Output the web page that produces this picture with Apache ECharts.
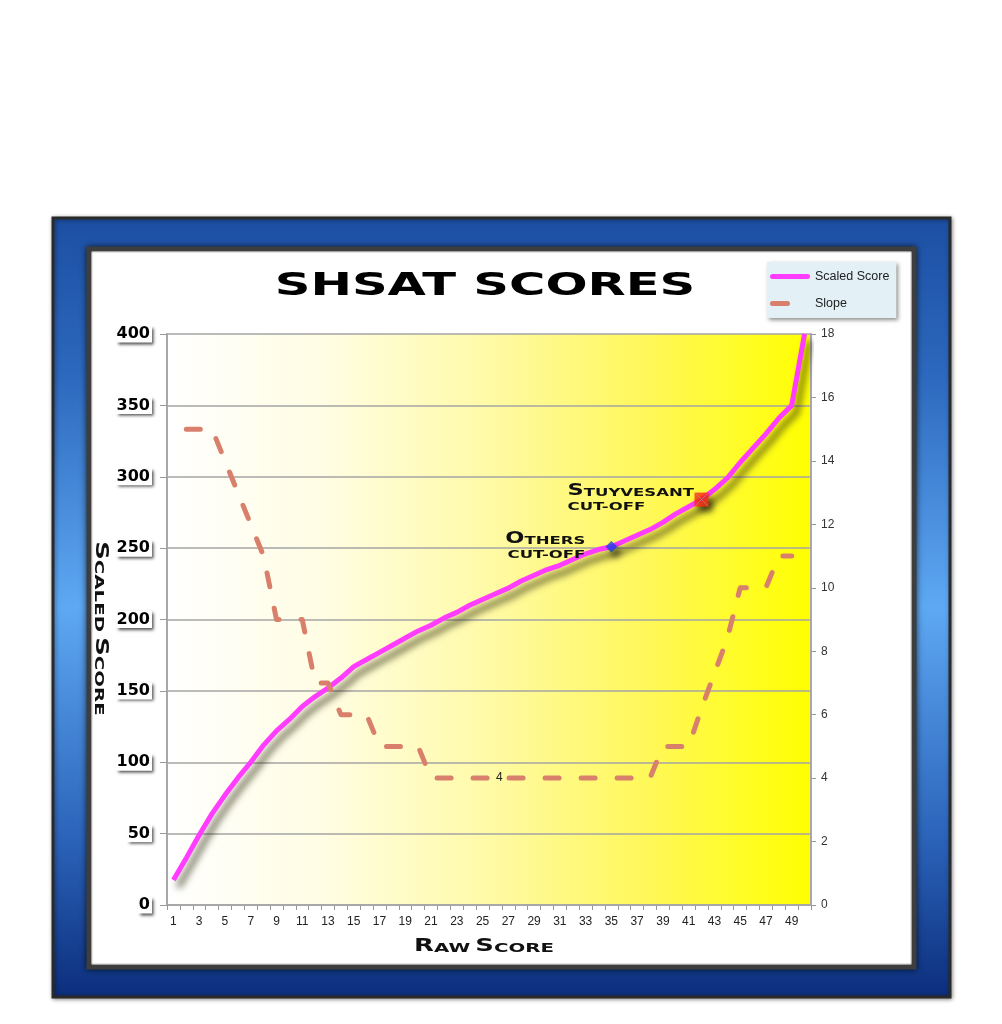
<!DOCTYPE html>
<html>
<head>
<meta charset="utf-8">
<script src="https://cdn.jsdelivr.net/npm/echarts@6/dist/echarts.min.js"></script>
<style>html,body{margin:0;padding:0;background:#fff}#c{width:1002px;height:1024px}</style>
</head>
<body>
<div id="c"></div>
<script>
// ---- data ----
const rawScores = ['1','2','3','4','5','6','7','8','9','10','11','12','13','14','15','16','17','18','19','20',
  '21','22','23','24','25','26','27','28','29','30','31','32','33','34','35','36','37','38','39','40',
  '41','42','43','44','45','46','47','48','49','50'];
const scaledScores = [17.5,33,49,64,77,89,100,112,122,130,139,146,152,159,167,172,177,182,187,192,
  196,201,205,210,214,218,222,227,231,235,238,242,246,249,251,255,259,263,268,274,
  279,284,291,299,310,320,330,341,350,400];
const slopeValues = [null,15,15,15,14,13,12,11,9,9,9,7,7,6,6,6,5,5,5,5,
  4,4,4,4,4,4,4,4,4,4,4,4,4,4,4,4,4,4,5,5,
  5,6.2,7.3,8.4,10,10,10,11,11,null];
const slopeLabelRaw = '26';
const stuyvesantRaw = '42';
const othersRaw = '35';
const leftTicks = [0,50,100,150,200,250,300,350,400];
const rightTicks = [0,2,4,6,8,10,12,14,16,18];
const titleText = 'SHSAT SCORES';

// ---- build ----
const chart = echarts.init(document.getElementById('c'));
const idxOf = r => rawScores.indexOf(r);

const slopeData = slopeValues.map((v, i) => {
  if (rawScores[i] === slopeLabelRaw) {
    return { value: v, symbol: 'circle', symbolSize: 1, itemStyle: { color: 'rgba(0,0,0,0)' },
      label: { show: true, position: 'inside', offset: [4, 0], fontSize: 12, fontFamily: 'Liberation Sans', color: '#222' } };
  }
  return v;
});

const font = 'DejaVu Sans';

chart.setOption({
  animation: false,
  backgroundColor: '#ffffff',
  grid: {
    left: 167, right: 191, top: 334, bottom: 119,
    show: true, borderWidth: 0,
    backgroundColor: new echarts.graphic.LinearGradient(0, 0, 1, 0, [
      { offset: 0, color: '#ffffff' },
      { offset: 0.25, color: '#fffde2' },
      { offset: 0.5, color: '#fffaa6' },
      { offset: 0.75, color: '#fff858' },
      { offset: 1, color: '#ffff00' }
    ])
  },
  legend: {
    data: [
      { name: 'Scaled Score', icon: 'path://M2.5,0H37.5A2.5,2.5,0,0,1,37.5,5H2.5A2.5,2.5,0,0,1,2.5,0Z' },
      { name: 'Slope', icon: 'path://M2.5,0H17.5A2.5,2.5,0,0,1,17.5,5H2.5A2.5,2.5,0,0,1,2.5,0Z M0,0H0.01V0.01H0Z M39.99,4.99H40V5H39.99Z' }
    ],
    orient: 'vertical',
    left: 767, top: 262,
    padding: [8, 7, 8, 3],
    itemGap: 14, itemWidth: 40, itemHeight: 14,
    backgroundColor: '#e3f0f6',
    shadowColor: 'rgba(0,0,0,0.45)', shadowBlur: 4, shadowOffsetX: 2, shadowOffsetY: 2,
    textStyle: { fontFamily: 'Liberation Sans', fontSize: 12.5, color: '#222' },
    selectedMode: false
  },
  xAxis: {
    type: 'category',
    data: rawScores,
    boundaryGap: true,
    axisLine: { show: true, lineStyle: { color: '#a8a8a8', width: 2 } },
    axisTick: { show: true, interval: 0, length: 5, lineStyle: { color: '#999' } },
    axisLabel: { interval: 1, margin: 11, fontSize: 12, fontFamily: 'Liberation Sans', color: '#222' },
    splitLine: { show: false }
  },
  yAxis: [
    {
      type: 'value',
      min: leftTicks[0], max: leftTicks[leftTicks.length - 1], interval: leftTicks[1] - leftTicks[0],
      axisLine: { show: true, lineStyle: { color: '#a8a8a8', width: 2 } },
      axisTick: { show: true, length: 7, lineStyle: { color: '#999' } },
      splitLine: { show: true, lineStyle: { color: '#a4a4a4', width: 1.5 } },
      axisLabel: {
        margin: 15, fontSize: 16, fontWeight: 'bold', fontFamily: font, color: '#000',
        backgroundColor: '#fff', padding: [1, 2, 0, 1],
        shadowColor: 'rgba(0,0,0,0.7)', shadowBlur: 3, shadowOffsetX: 2, shadowOffsetY: 2
      }
    },
    {
      type: 'value',
      position: 'right',
      min: rightTicks[0], max: rightTicks[rightTicks.length - 1], interval: rightTicks[1] - rightTicks[0],
      axisLine: { show: true, lineStyle: { color: '#a8a8a8', width: 2 } },
      axisTick: { show: true, length: 5, lineStyle: { color: '#999' } },
      splitLine: { show: false },
      axisLabel: { margin: 10, fontSize: 12, fontFamily: 'Liberation Sans', color: '#333' }
    }
  ],
  series: [
    {
      name: 'Scaled Score', type: 'line', yAxisIndex: 0,
      data: scaledScores, symbol: 'none', z: 3,
      itemStyle: { color: '#ff3cff' },
      lineStyle: { color: '#ff3cff', width: 5, shadowColor: 'rgba(40,40,10,0.7)', shadowBlur: 7, shadowOffsetX: 5, shadowOffsetY: 7 }
    },
    {
      name: 'Slope', type: 'line', yAxisIndex: 1,
      data: slopeData, symbol: 'none', z: 4,
      itemStyle: { color: '#d9806c' },
      lineStyle: { color: '#d9806c', width: 5, type: [14, 22], cap: 'round', join: 'round' }
    },
    {
      name: 'Stuyvesant', type: 'scatter', yAxisIndex: 0, z: 6,
      data: [[stuyvesantRaw, scaledScores[idxOf(stuyvesantRaw)]]],
      symbol: 'rect', symbolSize: 14,
      itemStyle: { color: '#ff2a12', shadowColor: 'rgba(0,0,0,0.75)', shadowBlur: 6, shadowOffsetX: 4, shadowOffsetY: 5 }
    },
    {
      name: 'StuyvesantX', type: 'scatter', yAxisIndex: 0, z: 7,
      data: [[stuyvesantRaw, scaledScores[idxOf(stuyvesantRaw)]]],
      symbol: 'path://M0,0L10,10M10,0L0,10', symbolSize: 13,
      itemStyle: { color: 'rgba(0,0,0,0)', borderColor: '#b08a80', borderWidth: 1 }
    },
    {
      name: 'Others', type: 'scatter', yAxisIndex: 0, z: 6,
      data: [[othersRaw, scaledScores[idxOf(othersRaw)]]],
      symbol: 'diamond', symbolSize: 11,
      itemStyle: { color: '#1d3ff5', borderColor: '#2a3f9a', borderWidth: 0.5, shadowColor: 'rgba(0,0,0,0.75)', shadowBlur: 6, shadowOffsetX: 4, shadowOffsetY: 5 }
    }
  ]
});

// ---- decorations & text placed via the library's coordinate conversion ----
const pS = chart.convertToPixel({ xAxisIndex: 0, yAxisIndex: 0 }, [stuyvesantRaw, scaledScores[idxOf(stuyvesantRaw)]]);
const pO = chart.convertToPixel({ xAxisIndex: 0, yAxisIndex: 0 }, [othersRaw, scaledScores[idxOf(othersRaw)]]);
const gridRect = chart.getModel().getComponent('grid').coordinateSystem.getRect();
const cx = gridRect.x + gridRect.width / 2;
const cy = gridRect.y + gridRect.height / 2;

const capRich = {
  b: { fontSize: 15, fontWeight: 'bold', fontFamily: font, fill: '#111', verticalAlign: 'bottom', lineHeight: 14 },
  s: { fontSize: 11, fontWeight: 'bold', fontFamily: font, fill: '#111', verticalAlign: 'bottom', lineHeight: 14 }
};
const nameRich = {
  b: { fontSize: 17, fontWeight: 'bold', fontFamily: font, fill: '#111', verticalAlign: 'bottom', lineHeight: 16 },
  s: { fontSize: 13, fontWeight: 'bold', fontFamily: font, fill: '#111', verticalAlign: 'bottom', lineHeight: 16 }
};

chart.setOption({
  graphic: [
    {
      type: 'rect', z: -100, silent: true,
      shape: { x: 53, y: 218, width: 897, height: 779 },
      style: {
        fill: new echarts.graphic.LinearGradient(0, 0, 0, 1, [
          { offset: 0, color: '#1c4fa3' },
          { offset: 0.2, color: '#2c68bd' },
          { offset: 0.5, color: '#5ea8f3' },
          { offset: 0.8, color: '#2a62b8' },
          { offset: 1, color: '#0c2e7c' }
        ]),
        stroke: '#2a2a2a', lineWidth: 3,
        shadowColor: 'rgba(0,0,0,0.4)', shadowBlur: 4, shadowOffsetX: 1, shadowOffsetY: 1
      }
    },
    {
      type: 'rect', z: -99, silent: true,
      shape: { x: 89, y: 249, width: 825, height: 718 },
      style: {
        fill: '#ffffff', stroke: '#3e3e3e', lineWidth: 5,
        shadowColor: 'rgba(0,0,0,0.6)', shadowBlur: 6, shadowOffsetX: 0, shadowOffsetY: 0
      }
    },
    {
      type: 'rect', z: -98, silent: true,
      shape: { x: 92, y: 252, width: 819, height: 712 },
      style: { fill: '#ffffff', stroke: '#c8c8c8', lineWidth: 1 }
    },
    {
      type: 'text', z: 10, silent: true,
      x: cx - 4, y: 287, scaleX: 1.55,
      style: { text: titleText, fontSize: 32, fontWeight: 'bold', fontFamily: font, fill: '#000',
        align: 'center', verticalAlign: 'middle' }
    },
    {
      type: 'text', z: 10, silent: true,
      x: cx - 5, y: 947, scaleX: 1.52,
      style: { text: '{b|R}{s|AW} {b|S}{s|CORE}', rich: nameRich, align: 'center', verticalAlign: 'middle' }
    },
    {
      type: 'text', z: 10, silent: true,
      x: 100, y: cy + 9, scaleX: 1.52, rotation: -Math.PI / 2,
      style: { text: '{b|S}{s|CALED} {b|S}{s|CORE}', rich: nameRich, align: 'center', verticalAlign: 'middle' }
    },
    {
      type: 'text', z: 10, silent: true,
      x: pS[0] - 134, y: pS[1] - 1, scaleX: 1.5,
      style: { text: '{b|S}{s|TUYVESANT}\n{s|CUT-OFF}', rich: capRich, align: 'left', verticalAlign: 'middle' }
    },
    {
      type: 'text', z: 10, silent: true,
      x: pO[0] - 26, y: pO[1] - 0, scaleX: 1.5,
      style: { text: '{b|O}{s|THERS}\n{s|CUT-OFF}', rich: capRich, align: 'right', verticalAlign: 'middle' }
    }
  ]
});
</script>
</body>
</html>
